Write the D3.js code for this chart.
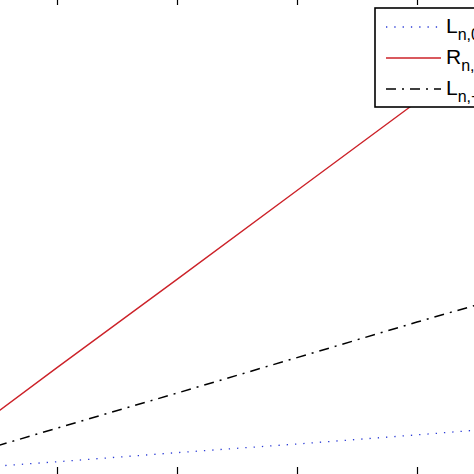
<!DOCTYPE html>
<html>
<head>
<meta charset="utf-8">
<style>
  body { margin: 0; background: #fff; }
  svg { display: block; }
  text { font-family: "Liberation Sans", Arial, sans-serif; }
</style>
<script src="https://d3js.org/d3.v7.min.js"></script>
</head>
<body>
<svg width="474" height="474"></svg>
<script>
// values
var nVals   = [0.5, 1, 2, 3, 4, 4.5];
var lZero   = [2.9, 3.8, 5.7, 7.5, 9.4, 10.4];   // blue dotted
var rVals   = [14.1, 23.4, 41.8, 60.3, 78.8, 88.0]; // red solid
var lMinus  = [7.1, 10.8, 18.1, 25.5, 32.9, 36.5];  // black dash-dot
var xTicks  = [1, 2, 3, 4];
var legendNames = [
  {base: "L", sub: "n,0"},
  {base: "R", sub: "n,1"},
  {base: "L", sub: "n,\u22121"}
];

var svg = d3.select("svg");

var x = d3.scaleLinear().domain([1, 4]).range([57, 417]);
var y = d3.scaleLinear().domain([0, 100]).range([480, 0]);

var series = [
  {vals: lZero,  color: "#2a3bd6", width: 1.3, dash: "1.3,7"},
  {vals: rVals,  color: "#cc2229", width: 1.4, dash: null},
  {vals: lMinus, color: "#000",    width: 1.5, dash: "10,6,2,6"}
];

var line = d3.line()
  .x(function(d) { return x(d[0]); })
  .y(function(d) { return y(d[1]); });

series.forEach(function(s) {
  svg.append("path")
    .datum(nVals.map(function(n, i) { return [n, s.vals[i]]; }))
    .attr("fill", "none")
    .attr("stroke", s.color)
    .attr("stroke-width", s.width)
    .attr("stroke-dasharray", s.dash)
    .attr("d", line);
});

// axes (mostly outside the visible window, only tick marks show)
var top = svg.append("g")
  .attr("transform", "translate(0,-3)")
  .call(d3.axisBottom(x).tickValues(xTicks).tickSize(8).tickFormat(""));
var bottom = svg.append("g")
  .attr("transform", "translate(0,476)")
  .call(d3.axisTop(x).tickValues(xTicks).tickSize(9).tickFormat(""));
svg.selectAll(".domain").remove();
svg.selectAll(".tick line").attr("stroke", "#000").attr("stroke-width", 1.2);

// legend
var lg = svg.append("g");
lg.append("rect")
  .attr("x", 375).attr("y", 8)
  .attr("width", 140).attr("height", 99)
  .attr("fill", "#fff")
  .attr("stroke", "#000")
  .attr("stroke-width", 1.6);

var rowY = [27, 58, 89];
legendNames.forEach(function(d, i) {
  var s = series[i];
  lg.append("line")
    .attr("x1", 386).attr("x2", 441)
    .attr("y1", rowY[i]).attr("y2", rowY[i])
    .attr("stroke", s.color)
    .attr("stroke-width", s.width)
    .attr("stroke-dasharray", s.dash);
  var t = lg.append("text")
    .attr("x", 446).attr("y", rowY[i] + 6)
    .attr("font-size", 21)
    .attr("fill", "#000");
  t.append("tspan").text(d.base);
  t.append("tspan").attr("dy", 7).attr("font-size", 16).text(d.sub);
});
</script>
</body>
</html>
